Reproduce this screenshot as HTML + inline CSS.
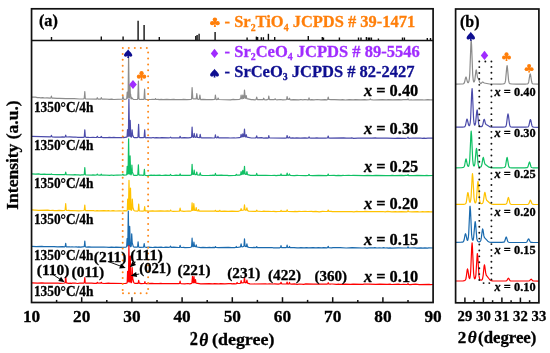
<!DOCTYPE html>
<html><head><meta charset="utf-8"><style>
html,body{margin:0;padding:0;background:#fff;width:550px;height:353px;overflow:hidden}
svg{display:block}
</style></head><body>
<svg width="550" height="353" viewBox="0 0 550 353">
<rect width="550" height="353" fill="#fff"/>
<g fill="none" stroke-width="1.2" stroke-linejoin="round"><polyline points="31.6,97.1 35.4,97.2 37.4,97.6 39.1,97.5 40.7,97.8 42.7,97.6 44.7,98.0 47.0,97.8 50.1,98.1 50.9,97.9 51.4,96.2 51.8,97.8 52.2,98.2 53.4,98.1 57.1,98.4 59.2,98.3 65.9,98.7 66.8,98.5 72.7,98.7 74.1,98.6 79.4,99.0 83.3,98.8 84.0,98.7 84.3,98.1 84.8,91.6 85.2,97.8 85.4,98.6 85.7,98.9 96.7,99.1 97.3,97.7 97.9,99.1 100.6,99.1 100.9,98.8 101.3,97.6 101.8,98.9 102.3,99.1 104.7,99.0 109.5,99.4 111.8,99.1 113.6,99.5 122.1,99.2 122.5,98.8 122.9,96.2 123.6,99.2 124.7,99.3 126.5,99.0 126.8,98.1 127.2,92.2 127.7,98.0 127.8,98.1 128.0,97.8 128.1,96.4 128.6,55.2 129.2,97.2 129.4,97.9 129.6,97.0 130.0,85.3 130.3,94.1 130.4,94.5 130.6,94.2 130.6,94.4 131.0,98.6 131.2,98.9 131.3,98.7 131.7,97.4 132.1,98.3 132.6,98.5 133.2,99.3 134.0,99.5 137.3,99.3 137.8,98.6 138.4,81.0 138.9,98.2 139.1,99.2 139.9,99.5 141.9,99.3 143.7,99.5 144.0,99.2 144.6,89.1 145.0,98.0 145.2,99.0 145.6,99.3 150.3,99.5 153.0,99.3 154.9,99.5 155.5,98.6 156.1,99.5 158.1,99.3 159.2,99.6 161.2,99.3 163.0,99.6 166.8,99.4 170.3,99.6 173.8,99.4 175.6,99.7 177.5,99.5 182.0,99.6 183.4,99.4 186.9,99.7 190.9,99.5 191.4,99.1 191.6,98.2 192.1,87.6 192.8,98.6 193.7,98.9 196.2,98.9 196.8,93.7 197.4,98.9 197.7,99.1 199.0,99.3 199.3,99.1 199.9,95.1 200.4,98.9 200.8,99.6 202.8,99.4 206.9,99.7 208.9,99.5 212.1,99.7 214.5,99.4 215.0,98.8 215.4,95.1 215.9,98.9 216.3,99.6 217.6,99.4 218.1,98.0 218.8,99.5 230.6,99.8 233.2,99.4 234.8,99.7 239.1,99.5 240.6,98.8 241.1,95.0 241.7,98.7 242.0,98.8 242.3,98.4 242.8,95.2 243.3,98.0 243.5,98.4 243.8,98.2 244.1,96.6 244.5,90.0 245.2,98.1 245.5,98.3 245.8,98.1 246.2,95.7 246.8,98.6 251.3,99.7 252.7,99.6 255.0,99.8 256.1,99.5 256.7,97.1 257.2,99.2 257.6,99.6 263.0,99.6 263.2,99.5 263.7,98.2 264.3,99.6 266.1,99.8 268.1,99.4 268.4,98.8 268.8,96.1 269.2,98.9 269.7,99.7 274.0,99.7 274.6,99.5 275.1,98.7 275.5,99.5 276.5,99.8 280.7,99.5 282.7,99.8 286.2,99.6 286.7,99.2 287.1,96.6 287.8,99.4 288.9,99.5 289.5,98.2 290.0,99.6 291.0,99.8 293.4,99.6 299.0,99.8 300.8,99.5 302.9,99.8 304.8,99.5 308.0,99.9 308.6,99.6 309.0,97.8 309.4,99.4 309.8,99.8 311.8,99.6 313.9,99.8 317.1,99.5 321.0,99.8 325.0,99.6 327.0,99.8 327.7,99.4 328.2,97.1 328.8,99.5 331.0,99.7 334.5,99.6 340.6,99.9 342.6,99.6 345.4,100.0 349.1,99.6 353.3,99.9 355.3,99.6 360.7,99.9 364.8,99.6 366.4,99.8 369.6,99.6 370.4,98.9 370.9,99.6 373.4,100.0 382.3,99.6 386.4,99.8 388.2,99.6 392.8,99.9 398.9,99.6 401.3,99.8 403.3,99.6 407.4,99.7 408.0,98.8 408.5,99.7 409.3,100.0 411.4,99.8 412.1,100.0 415.8,99.8 417.8,99.9 422.4,99.8 424.0,100.0 427.8,99.6 430.1,99.9 433.1,99.8" stroke="#8c8c8c"/><polyline points="31.6,136.3 50.5,136.8 51.0,136.5 51.4,135.4 52.0,136.8 55.1,137.1 58.4,137.0 60.5,137.2 62.6,136.9 64.3,137.2 65.2,136.9 65.7,135.1 66.2,136.8 66.5,137.0 69.8,136.9 73.2,137.2 75.4,137.0 77.8,137.3 83.4,137.3 84.1,137.2 84.3,136.6 84.8,129.9 85.3,136.5 85.5,137.0 86.1,137.3 88.2,137.3 89.7,137.5 93.1,137.3 95.4,137.5 96.7,137.3 97.3,136.3 97.9,137.3 99.6,137.5 100.7,137.4 101.3,136.4 101.9,137.3 103.2,137.6 106.5,137.5 107.3,137.7 109.4,137.4 111.8,137.7 113.8,137.3 115.9,137.6 117.5,137.5 119.9,137.7 122.2,137.6 122.9,136.5 123.5,137.6 126.5,137.2 126.9,137.0 127.1,136.3 127.5,129.5 127.9,136.1 128.2,136.5 128.4,135.1 128.9,99.1 129.5,135.9 129.7,136.2 129.8,134.9 130.2,120.4 130.8,136.7 131.3,137.1 131.5,137.0 131.7,136.5 132.1,129.8 132.6,135.1 133.6,137.2 134.4,137.6 137.0,137.7 138.0,137.3 138.6,124.3 139.1,136.4 139.3,137.3 139.9,137.6 143.2,137.7 144.1,137.5 144.7,129.9 145.2,137.3 145.3,137.6 146.4,137.8 146.9,137.6 151.3,137.8 153.1,137.5 154.6,137.9 156.2,137.6 159.7,137.9 161.7,137.6 168.7,137.9 170.1,137.7 170.6,137.1 171.3,137.8 178.6,137.9 179.6,137.8 180.1,136.3 180.6,137.7 181.3,137.9 184.2,137.7 188.1,137.9 190.4,137.7 191.2,137.4 191.6,136.7 192.1,127.0 192.5,135.2 192.9,137.2 193.4,137.3 193.7,136.9 194.2,133.3 194.8,137.1 196.0,137.3 196.2,137.2 196.8,133.8 197.2,136.8 197.5,137.5 199.6,137.6 200.2,134.4 200.8,137.6 201.8,137.9 211.0,137.8 213.2,138.0 214.6,137.9 215.0,137.3 215.4,134.9 215.9,137.5 216.4,137.9 217.5,137.6 217.9,136.4 218.4,137.6 219.1,137.9 228.1,137.8 230.1,138.0 234.1,137.8 235.3,138.0 239.4,137.7 240.6,137.2 241.1,134.3 241.7,137.0 242.1,136.9 242.4,136.5 242.8,133.8 243.3,136.4 243.5,136.7 243.9,136.5 244.5,129.0 244.9,135.3 245.2,136.8 245.5,136.9 245.8,136.7 246.2,134.6 246.9,137.1 251.3,138.0 256.1,137.8 256.7,135.9 257.1,137.5 257.4,137.9 261.7,137.7 263.5,138.1 266.3,137.9 268.1,138.1 268.4,137.6 268.8,135.6 269.2,137.5 269.7,137.9 285.1,138.1 286.6,137.8 287.1,135.5 287.7,137.8 289.0,137.8 289.5,136.8 289.9,137.8 290.7,138.1 292.6,137.9 294.6,138.1 296.6,137.9 300.3,138.2 305.0,137.9 307.2,138.1 308.5,137.9 309.0,136.9 309.5,137.8 310.8,138.1 314.7,138.2 316.8,137.9 318.9,138.2 321.4,138.0 325.5,138.1 327.6,137.9 328.2,136.0 328.7,138.0 330.0,138.2 343.6,137.9 346.4,138.2 348.3,138.0 350.5,138.1 351.8,137.9 353.6,138.3 357.9,138.1 359.6,138.2 363.7,138.0 365.4,138.2 367.4,138.0 368.6,138.2 371.7,138.2 375.4,137.9 376.9,138.1 378.9,138.0 383.1,138.2 387.0,138.1 395.3,138.3 397.2,138.1 405.0,138.3 407.5,138.0 408.0,137.2 408.7,138.3 413.2,138.0 418.7,138.2 420.5,138.0 422.2,138.4 424.1,138.1 425.8,138.3 427.8,138.1 433.1,138.2" stroke="#4b4baa"/><polyline points="31.6,173.8 35.4,174.1 38.6,173.9 40.8,174.4 44.5,174.1 46.2,174.3 50.2,174.3 51.0,174.3 51.4,173.9 52.0,174.3 52.9,174.5 57.2,174.6 60.9,174.5 64.8,174.7 65.2,174.4 65.7,172.2 66.2,174.4 66.6,174.6 73.1,174.8 74.9,174.7 76.4,174.9 78.2,174.8 80.4,175.1 81.2,174.9 83.1,174.9 84.0,174.7 84.3,174.2 84.8,167.6 85.3,174.2 85.5,174.9 85.9,175.0 92.0,175.1 92.9,174.9 94.9,175.2 96.7,174.9 97.3,174.1 97.9,175.0 99.2,175.2 100.7,175.1 101.3,174.2 101.7,175.0 102.0,175.2 103.6,175.0 109.9,175.3 111.4,175.0 113.4,175.3 116.8,175.0 117.7,175.2 122.3,175.0 122.9,174.2 123.6,175.1 126.2,175.0 126.6,174.8 126.8,173.8 127.2,166.4 127.7,173.8 127.9,174.2 128.1,172.9 128.6,138.8 129.2,173.6 129.5,174.0 129.7,172.0 130.1,155.9 130.6,174.1 131.1,174.8 131.4,174.1 131.9,165.1 132.3,171.9 133.4,174.8 133.6,175.1 134.5,175.3 136.4,175.4 137.4,175.2 137.8,174.8 138.4,164.8 138.8,174.2 139.0,174.9 139.6,175.2 141.7,175.1 143.1,175.3 143.8,175.1 144.4,169.4 144.8,174.4 145.0,175.1 145.4,175.3 147.9,175.6 151.1,175.2 153.1,175.4 153.6,175.2 155.8,175.4 159.7,175.2 161.8,175.5 165.6,175.1 167.9,175.4 169.8,175.3 170.6,174.5 171.1,175.3 173.4,175.5 176.1,175.2 178.1,175.4 179.6,175.3 180.1,173.9 180.6,175.2 180.9,175.4 190.3,175.3 191.3,174.9 191.6,174.3 192.1,164.3 192.5,172.6 192.8,174.5 193.4,174.5 193.7,174.1 194.2,170.2 194.6,173.8 194.9,174.6 196.2,174.7 196.8,172.0 197.2,174.5 197.5,175.0 199.6,175.2 200.2,172.8 200.8,175.1 202.7,175.5 208.6,175.5 210.4,175.3 212.2,175.4 212.9,175.2 214.6,175.4 215.0,175.1 215.4,173.4 215.9,175.1 216.2,175.4 221.5,175.1 223.5,175.4 227.3,175.3 228.7,175.6 234.0,175.5 235.7,175.3 236.3,174.3 236.8,175.2 239.5,175.2 240.6,174.6 241.1,171.7 241.6,174.4 241.8,174.6 242.2,174.3 242.8,170.4 243.3,173.8 243.6,174.1 243.9,173.9 244.5,166.3 244.9,172.7 245.2,174.1 245.9,174.4 246.3,174.3 246.9,171.7 247.5,174.7 250.6,175.4 256.1,175.4 256.7,173.4 257.2,175.2 257.6,175.4 265.9,175.3 271.4,175.5 274.5,175.3 276.2,175.6 278.0,175.3 280.2,175.4 280.5,175.3 281.0,173.9 281.5,175.2 281.8,175.4 286.0,175.4 286.5,175.3 286.7,175.0 287.1,173.0 287.8,175.3 288.9,175.2 289.5,174.0 289.9,175.0 290.3,175.4 294.3,175.6 297.1,175.3 298.8,175.5 305.8,175.6 308.3,175.3 309.0,174.4 309.7,175.4 312.7,175.7 318.6,175.4 326.5,175.6 327.6,175.4 328.2,174.0 328.6,175.2 328.9,175.5 334.1,175.3 336.1,175.6 338.3,175.3 341.1,175.6 343.1,175.3 344.0,175.5 348.9,175.3 351.1,175.5 353.1,175.3 364.4,175.7 367.6,175.3 372.5,175.7 376.0,175.4 386.2,175.6 390.1,175.6 392.2,175.3 394.4,175.6 401.8,175.3 403.8,175.6 405.8,175.3 407.4,175.5 408.0,174.6 408.7,175.6 411.5,175.5 413.9,175.7 417.1,175.4 424.8,175.6 426.8,175.4 428.4,175.6 433.1,175.5" stroke="#10c064"/><polyline points="31.6,210.0 32.6,209.8 34.7,210.2 35.6,210.1 38.7,210.4 47.9,210.2 50.2,210.5 52.8,210.3 54.4,210.6 57.0,210.6 59.0,210.3 62.3,210.6 64.8,210.3 65.2,209.4 65.7,203.7 66.2,209.8 66.4,210.3 67.2,210.5 68.2,210.4 70.2,210.7 71.5,210.5 78.6,210.8 83.9,210.5 84.3,209.8 84.8,205.1 85.2,209.8 85.7,210.6 93.4,210.7 95.0,211.0 97.0,210.6 98.9,210.9 104.0,210.7 106.6,210.9 108.6,210.7 110.1,211.0 113.1,210.7 115.6,211.0 119.4,210.8 122.5,211.0 124.2,210.7 126.2,210.9 127.0,210.6 127.3,210.0 127.7,199.2 128.1,208.4 128.3,209.5 128.5,208.8 129.0,180.3 129.6,209.3 129.7,209.7 129.9,209.6 130.1,207.3 130.5,188.0 131.0,209.6 131.2,210.2 131.5,210.3 131.9,209.3 132.3,199.1 132.8,207.1 133.8,210.3 134.2,210.7 135.0,210.9 137.4,211.1 138.2,210.8 138.7,204.1 139.2,210.3 139.4,210.9 139.8,211.0 142.2,211.1 144.1,210.8 144.7,206.7 145.1,210.5 145.3,210.8 146.1,210.9 146.8,210.8 148.8,211.1 152.7,210.8 154.7,211.1 160.6,210.9 164.9,211.1 167.5,210.9 169.5,211.2 170.1,211.0 170.6,210.1 171.2,211.0 173.1,211.3 178.7,211.2 179.4,211.1 179.6,210.8 180.1,208.1 180.6,210.5 180.9,210.9 183.9,211.3 188.2,211.0 190.4,211.1 191.4,210.8 191.6,210.4 192.1,202.9 192.5,209.1 192.8,210.5 193.2,210.4 193.4,209.6 193.8,203.6 194.5,210.3 195.4,210.4 195.7,210.2 196.2,207.5 196.8,210.6 198.1,211.0 198.7,209.6 199.1,210.9 199.4,211.1 214.8,211.2 215.4,210.3 216.2,211.4 218.2,211.1 219.2,211.3 219.8,210.3 220.2,211.1 220.7,211.3 224.4,211.2 228.1,211.4 231.9,211.1 236.2,211.4 238.5,211.3 240.6,210.5 241.1,208.6 241.7,210.4 243.9,210.0 244.5,204.9 244.9,209.1 245.3,210.2 245.8,210.2 246.4,210.0 246.9,207.9 247.4,210.3 248.0,210.9 248.8,211.1 254.5,211.4 256.1,211.3 256.7,210.2 257.3,211.1 261.8,211.5 263.8,211.2 265.6,211.4 268.5,211.3 271.7,211.5 273.7,211.3 276.0,211.6 277.9,211.5 280.6,211.3 281.0,210.4 281.5,211.3 281.8,211.4 286.1,211.4 286.7,211.2 287.1,209.8 287.6,211.1 287.9,211.3 294.2,211.6 294.9,211.4 297.0,211.7 299.1,211.4 301.2,211.5 305.2,211.3 307.9,211.5 311.5,211.3 313.0,211.6 315.8,211.3 319.2,211.8 322.5,211.4 325.4,211.5 327.6,211.3 328.2,210.0 328.7,211.3 331.2,211.4 332.3,211.7 339.9,211.5 344.2,211.7 346.2,211.5 347.7,211.7 351.8,211.6 353.9,211.8 356.9,211.4 358.1,211.6 361.4,211.5 363.4,211.6 365.0,211.4 369.0,211.7 373.5,211.5 374.9,211.7 376.2,211.6 382.7,211.5 385.2,211.8 387.3,211.4 391.9,211.8 395.9,211.6 396.8,211.8 401.3,211.7 406.4,211.8 407.5,211.7 408.0,210.7 408.8,211.7 412.0,211.9 417.4,211.6 419.6,212.0 422.6,211.7 424.5,211.9 428.2,211.7 430.4,211.9 433.1,211.9" stroke="#ffc200"/><polyline points="31.6,246.3 36.3,246.6 41.8,246.3 43.7,246.7 54.0,246.6 57.6,246.9 62.5,246.7 64.5,246.9 65.2,246.5 65.7,243.3 66.1,246.3 66.5,246.8 69.6,246.8 71.0,247.0 71.9,246.8 74.1,247.0 76.1,246.9 78.0,247.1 78.7,246.9 80.7,247.2 84.1,246.7 84.4,245.6 84.8,241.0 85.3,246.7 85.8,247.0 86.6,247.2 88.8,246.9 91.5,247.1 96.0,247.0 97.9,247.2 103.7,247.0 109.1,247.4 111.6,247.1 114.4,247.3 115.9,247.1 120.2,247.3 126.0,247.1 126.5,246.8 126.7,246.1 127.1,238.6 127.5,245.5 127.7,245.8 127.8,244.8 128.3,211.2 128.9,245.4 129.1,245.8 129.2,245.6 129.3,243.7 129.7,226.4 130.3,246.3 130.5,246.6 131.0,246.6 131.3,245.6 131.7,233.9 132.2,242.7 133.3,246.6 133.6,246.9 134.8,247.2 136.9,247.2 137.6,247.0 138.1,241.8 138.6,246.7 138.8,247.1 139.4,247.3 143.6,247.1 144.2,243.5 144.7,247.0 146.5,247.4 148.7,247.1 152.9,247.5 155.0,247.2 157.7,247.4 161.2,247.2 163.2,247.5 165.9,247.2 168.6,247.3 169.9,247.2 170.6,246.2 171.0,247.1 171.6,247.4 173.7,247.2 178.8,247.5 179.6,247.3 180.1,245.4 180.6,247.1 181.1,247.4 182.3,247.5 183.4,247.3 185.0,247.6 190.4,247.3 191.3,247.0 191.6,246.2 192.1,238.2 192.5,245.0 192.8,246.6 193.2,246.7 193.4,246.3 193.9,242.2 194.5,246.4 195.6,246.7 196.2,244.9 196.8,247.0 200.8,247.6 202.9,247.3 206.8,247.6 209.6,247.4 211.2,247.6 213.3,247.3 214.6,247.6 215.0,247.4 215.4,246.5 215.9,247.4 218.2,247.6 228.3,247.3 231.8,247.7 234.4,247.6 235.8,247.4 236.3,246.5 236.8,247.4 237.5,247.5 240.5,246.8 241.1,243.9 241.6,246.6 241.9,246.8 243.0,246.6 243.8,246.3 244.0,245.7 244.5,238.8 244.9,244.8 245.2,246.3 246.3,246.6 246.9,243.9 247.5,246.9 249.0,247.3 252.5,247.6 253.9,247.4 256.1,247.6 256.7,246.7 257.4,247.6 259.0,247.5 261.1,247.7 266.8,247.5 269.7,247.7 271.9,247.5 273.4,247.8 279.7,247.8 280.6,247.4 281.0,245.7 281.4,247.2 281.7,247.6 286.0,247.6 286.7,247.3 287.1,245.2 287.5,247.1 287.9,247.6 289.0,247.5 289.5,246.5 290.0,247.6 290.2,247.7 294.0,247.6 297.2,247.9 299.1,247.9 300.8,247.6 304.1,247.9 306.5,247.6 308.8,247.8 313.1,247.6 316.0,247.8 318.3,247.6 321.6,247.9 323.6,247.7 327.2,247.8 327.7,247.5 328.2,246.3 328.7,247.7 331.6,247.9 333.0,247.7 340.1,247.7 346.2,248.0 352.1,247.7 363.1,248.0 365.0,247.8 367.1,248.1 368.8,247.8 373.7,247.9 374.9,247.7 376.9,248.0 379.3,247.8 381.8,248.0 383.6,247.7 385.3,248.0 387.3,247.9 388.1,248.2 390.1,247.8 391.5,248.1 398.4,247.9 403.3,248.0 407.3,247.9 407.6,247.7 408.0,246.8 408.6,247.9 410.1,248.0 414.7,247.8 416.9,248.2 420.9,247.9 422.9,248.1 424.8,247.9 427.6,248.1 428.8,247.9 433.1,248.0" stroke="#1a6aae"/><polyline points="31.6,282.9 37.6,283.2 41.8,282.8 44.8,283.1 50.5,283.0 52.8,283.2 54.1,283.0 55.8,283.2 57.6,283.0 60.1,283.3 64.8,283.0 65.0,282.9 65.2,282.2 65.7,276.9 66.3,282.9 68.7,283.3 70.4,283.2 71.4,283.4 72.3,283.2 75.3,283.0 77.3,283.5 79.9,283.1 84.0,283.1 84.3,282.4 84.8,277.6 85.2,282.4 85.4,283.0 85.8,283.2 91.7,283.1 94.2,283.4 96.5,283.4 96.8,283.3 97.3,282.3 97.9,283.2 100.7,283.2 101.3,282.3 101.8,283.2 103.9,283.5 108.4,283.2 110.5,283.4 112.8,283.3 125.2,283.5 126.8,283.1 127.1,282.7 127.2,281.7 127.6,271.3 128.0,280.9 128.2,281.9 128.4,280.8 128.9,245.5 129.5,281.6 129.6,282.0 129.8,281.5 129.9,278.8 130.3,256.0 130.9,282.3 131.1,282.6 131.5,282.7 131.8,281.3 132.2,267.6 132.7,278.3 133.8,282.7 134.3,283.2 135.6,283.4 138.1,283.3 138.7,280.4 139.2,283.2 141.0,283.6 144.2,283.5 144.5,283.1 144.9,281.6 145.3,283.3 146.3,283.6 152.1,283.4 154.0,283.7 157.4,283.5 158.9,283.6 160.9,283.4 162.0,283.6 167.0,283.5 168.9,283.7 169.7,283.5 173.8,283.7 175.8,283.5 178.7,283.6 179.6,283.4 180.1,281.1 180.5,283.1 181.0,283.6 184.8,283.8 188.0,283.5 189.8,283.8 191.6,283.3 191.9,283.1 192.5,276.3 193.2,282.8 193.4,282.7 193.6,282.1 194.0,276.6 194.6,282.7 194.9,282.8 195.1,282.5 195.5,279.6 195.9,282.4 196.2,283.1 200.7,283.8 209.3,283.6 212.8,283.9 214.6,283.7 218.8,283.9 220.7,283.6 224.9,283.9 228.5,283.6 231.2,283.7 231.9,283.9 233.9,283.7 235.4,283.8 236.5,283.6 237.1,282.5 237.7,283.5 239.9,283.5 240.6,283.0 241.1,280.7 241.7,282.9 243.9,282.6 244.5,277.3 244.9,281.6 245.3,282.7 246.0,282.8 246.3,282.7 246.9,280.1 247.5,283.2 249.9,283.8 253.4,284.0 265.6,283.8 267.1,284.0 269.5,283.8 272.6,284.0 274.6,283.8 278.3,284.1 280.5,283.7 281.0,282.3 281.7,283.8 285.4,284.0 286.6,283.8 287.1,282.0 287.5,283.7 287.9,284.1 288.8,284.0 289.5,282.4 289.9,283.7 290.2,283.9 291.5,284.1 294.6,283.9 297.2,284.3 299.2,284.0 303.8,284.3 305.8,283.9 313.5,284.2 316.2,284.0 318.1,284.2 326.9,284.1 327.7,283.9 328.2,282.6 328.7,284.0 330.3,284.2 330.8,284.0 332.4,284.0 336.4,284.3 338.8,284.2 339.6,284.4 345.6,284.1 350.6,284.3 353.0,284.1 363.0,284.4 363.9,284.2 368.7,284.1 375.7,284.4 379.8,284.1 387.1,284.4 390.0,284.2 391.7,284.5 398.4,284.2 400.6,284.5 403.0,284.3 407.1,284.5 407.6,284.2 408.0,283.4 408.5,284.4 409.9,284.7 415.7,284.2 419.4,284.6 429.1,284.3 430.5,284.6 433.1,284.5" stroke="#ff0000"/></g>
<g fill="none" stroke-width="1.2" stroke-linejoin="round"><polyline points="455.6,84.1 461.8,84.0 463.1,83.8 463.7,83.6 464.2,83.0 464.6,82.1 465.6,77.7 466.0,77.0 466.3,77.6 467.2,81.1 467.6,82.3 467.9,82.6 468.3,82.6 468.8,81.8 469.4,78.6 469.8,73.4 470.9,43.7 471.1,40.8 471.2,40.0 471.6,45.4 472.7,74.6 473.2,79.8 473.5,81.2 473.8,81.9 474.1,81.9 474.3,81.7 474.8,80.0 475.9,71.0 476.2,69.8 476.5,70.7 477.5,77.4 477.8,78.0 478.4,78.5 478.6,79.1 479.8,82.6 480.5,83.4 481.2,83.3 482.3,82.2 482.7,82.1 484.3,83.0 489.4,84.0 500.4,84.1 503.0,83.9 504.3,83.6 504.7,83.3 505.0,82.7 505.5,80.9 506.7,67.9 507.1,65.6 507.2,65.9 507.4,67.2 508.6,80.4 509.1,82.5 509.4,83.2 509.8,83.6 511.8,84.0 516.5,84.1 525.1,84.1 526.9,84.0 527.7,83.8 528.3,83.2 528.7,81.9 529.8,75.0 530.2,73.9 530.6,75.0 531.6,81.5 532.0,82.8 532.3,83.5 532.8,83.8 533.7,84.0 538.9,84.2" stroke="#8c8c8c"/><polyline points="455.6,127.2 462.6,127.1 464.1,126.9 464.8,126.6 465.2,126.0 465.6,125.0 466.6,120.0 467.0,119.1 467.4,119.8 468.6,125.0 469.1,125.7 469.4,125.6 469.7,125.2 470.2,122.8 470.6,118.7 471.7,92.9 472.1,88.6 472.4,92.2 473.6,119.3 474.1,123.5 474.4,124.6 474.7,125.1 474.9,125.0 475.1,124.8 475.6,122.9 476.7,111.9 477.1,109.9 477.3,110.2 477.4,111.4 478.3,120.5 478.7,124.1 479.3,125.9 479.7,126.4 480.1,126.6 481.6,126.6 482.0,126.4 482.3,125.9 482.9,124.2 483.8,119.8 484.2,119.3 484.6,120.1 485.4,123.3 485.9,124.3 486.2,124.6 489.9,126.8 491.9,127.1 496.5,127.2 502.9,127.1 505.3,126.8 506.0,126.2 506.4,124.8 507.6,115.4 508.0,113.9 508.4,115.1 509.6,124.6 510.0,126.1 510.7,126.8 512.4,127.1 516.8,127.2 525.3,127.2 527.9,127.0 528.4,126.6 528.9,125.6 530.0,120.4 530.4,119.5 530.8,120.2 531.8,125.2 532.1,126.2 532.5,126.7 533.0,127.0 533.8,127.1 538.9,127.3" stroke="#4b4baa"/><polyline points="455.6,167.8 461.8,167.7 463.1,167.5 463.7,167.2 464.2,166.6 464.6,165.5 465.6,160.0 466.0,158.9 466.2,159.1 466.3,159.6 467.2,164.1 467.6,165.7 468.2,166.4 468.6,166.2 468.8,165.8 469.4,163.1 469.8,158.9 470.9,134.2 471.1,131.8 471.2,131.2 471.6,135.6 472.7,159.8 473.2,164.1 473.5,165.3 473.8,165.9 474.2,165.9 474.5,165.4 474.9,163.5 476.1,150.2 476.5,148.4 476.9,150.6 478.1,164.0 478.6,166.3 479.0,166.8 479.5,167.1 480.7,167.0 481.1,166.8 481.4,166.1 482.0,164.0 482.9,158.2 483.3,157.4 483.6,158.3 484.5,162.6 484.9,163.9 485.4,164.5 489.0,167.2 490.5,167.6 493.0,167.8 501.3,167.8 504.4,167.5 505.1,166.9 505.6,165.7 506.7,158.7 507.1,157.4 507.2,157.6 507.4,158.3 508.6,165.7 509.1,167.0 509.8,167.6 511.7,167.8 516.1,167.8 524.4,167.8 527.0,167.7 527.5,167.4 528.0,166.6 529.1,162.7 529.5,162.0 529.8,162.5 530.9,166.5 531.3,167.2 531.7,167.5 533.2,167.8 538.9,167.9" stroke="#10c064"/><polyline points="455.6,204.4 463.3,204.3 464.9,204.1 465.6,203.7 466.1,202.9 466.4,201.6 467.5,193.8 467.9,192.5 468.3,193.6 469.4,201.1 469.8,202.1 470.0,202.3 470.2,202.1 470.7,200.3 471.1,196.8 472.2,176.3 472.4,174.2 472.5,173.7 472.9,177.4 474.0,197.6 474.6,201.6 474.9,202.4 475.2,202.8 475.6,202.7 475.9,202.2 476.4,199.6 477.6,183.8 478.0,181.4 478.4,183.8 479.6,199.9 480.1,202.6 480.5,203.2 481.0,203.6 481.7,203.7 482.3,203.5 482.7,203.1 483.1,202.3 483.6,199.7 484.5,193.4 484.8,192.3 485.2,193.2 486.1,198.6 486.7,200.2 490.0,203.3 490.9,203.8 491.7,204.1 493.8,204.3 499.5,204.4 504.3,204.4 506.0,204.2 506.5,203.7 506.9,203.0 508.0,198.3 508.4,197.5 508.7,198.1 509.9,203.0 510.4,203.9 511.1,204.3 518.0,204.5 527.9,204.3 528.4,204.1 528.9,203.5 530.0,200.7 530.4,200.2 530.8,200.6 531.8,203.3 532.5,204.2 533.8,204.4 538.9,204.5" stroke="#ffc200"/><polyline points="455.6,242.4 461.4,242.2 462.6,242.1 463.3,241.8 463.7,241.1 464.1,240.0 465.1,234.7 465.5,233.7 465.9,234.5 467.0,239.7 467.4,240.4 467.8,240.0 468.3,237.7 468.7,233.5 469.8,209.3 469.9,206.8 470.1,206.2 470.5,210.6 471.6,234.5 472.1,238.7 472.4,239.8 472.7,240.3 473.0,240.2 473.2,239.8 473.6,237.7 474.9,223.4 475.2,221.5 475.6,223.8 476.8,238.4 477.4,240.8 477.7,241.3 478.2,241.6 479.1,241.8 479.9,241.6 480.4,241.2 480.8,240.5 481.3,237.9 482.3,230.4 482.6,228.9 483.0,229.9 483.9,235.9 484.5,237.7 487.8,241.2 488.6,241.8 489.6,242.1 491.3,242.3 495.7,242.4 501.6,242.4 503.7,242.2 504.3,241.9 504.7,241.2 505.9,237.5 506.2,237.0 506.6,237.6 507.7,241.3 508.2,242.0 508.9,242.3 516.6,242.5 526.1,242.3 526.7,242.1 527.1,241.6 528.3,239.1 528.6,238.8 529.0,239.2 530.0,241.5 530.4,242.0 530.8,242.3 532.5,242.4 538.9,242.5" stroke="#1a6aae"/><polyline points="455.6,281.0 463.0,280.8 464.5,280.6 465.2,280.2 465.7,279.4 466.1,278.0 467.2,269.9 467.5,268.8 467.9,270.2 469.0,277.6 469.5,278.6 469.9,278.2 470.3,275.6 470.7,271.0 471.7,247.2 472.1,242.9 472.4,246.4 473.6,273.1 474.1,277.2 474.4,278.3 474.8,278.8 475.1,278.6 475.4,277.8 475.9,274.8 477.1,255.7 477.3,253.9 477.4,253.5 477.8,256.8 479.0,275.9 479.6,278.9 479.9,279.6 480.4,280.0 481.2,280.1 481.9,279.9 482.3,279.4 482.6,278.5 483.2,275.1 484.1,266.1 484.5,264.8 484.8,266.3 485.7,272.9 486.2,275.2 489.6,279.5 490.4,280.2 491.3,280.6 492.7,280.9 495.4,281.0 505.9,280.9 506.4,280.8 506.9,280.5 508.0,278.5 508.4,278.2 508.7,278.4 509.9,280.5 510.4,280.8 511.1,281.0 528.6,281.0 529.6,280.7 530.8,279.4 531.1,279.2 531.5,279.4 532.5,280.6 533.3,281.0 538.9,281.1" stroke="#ff0000"/></g>
<g fill="#ff8a1c"><circle cx="122.80" cy="48.10" r="1.0"/><circle cx="128.80" cy="48.10" r="1.0"/><circle cx="134.80" cy="48.10" r="1.0"/><circle cx="140.80" cy="48.10" r="1.0"/><circle cx="146.80" cy="48.10" r="1.0"/><circle cx="148.10" cy="52.60" r="1.0"/><circle cx="148.10" cy="58.51" r="1.0"/><circle cx="148.10" cy="64.42" r="1.0"/><circle cx="148.10" cy="70.33" r="1.0"/><circle cx="148.10" cy="76.24" r="1.0"/><circle cx="148.10" cy="82.15" r="1.0"/><circle cx="148.10" cy="88.06" r="1.0"/><circle cx="148.10" cy="93.97" r="1.0"/><circle cx="148.10" cy="99.88" r="1.0"/><circle cx="148.10" cy="105.79" r="1.0"/><circle cx="148.10" cy="111.70" r="1.0"/><circle cx="148.10" cy="117.61" r="1.0"/><circle cx="148.10" cy="123.52" r="1.0"/><circle cx="148.10" cy="129.43" r="1.0"/><circle cx="148.10" cy="135.34" r="1.0"/><circle cx="148.10" cy="141.25" r="1.0"/><circle cx="148.10" cy="147.16" r="1.0"/><circle cx="148.10" cy="153.07" r="1.0"/><circle cx="148.10" cy="158.98" r="1.0"/><circle cx="148.10" cy="164.89" r="1.0"/><circle cx="148.10" cy="170.80" r="1.0"/><circle cx="148.10" cy="176.71" r="1.0"/><circle cx="148.10" cy="182.62" r="1.0"/><circle cx="148.10" cy="188.53" r="1.0"/><circle cx="148.10" cy="194.44" r="1.0"/><circle cx="148.10" cy="200.35" r="1.0"/><circle cx="148.10" cy="206.26" r="1.0"/><circle cx="148.10" cy="212.17" r="1.0"/><circle cx="148.10" cy="218.08" r="1.0"/><circle cx="148.10" cy="223.99" r="1.0"/><circle cx="148.10" cy="229.90" r="1.0"/><circle cx="148.10" cy="235.81" r="1.0"/><circle cx="148.10" cy="241.72" r="1.0"/><circle cx="148.10" cy="247.63" r="1.0"/><circle cx="148.10" cy="253.54" r="1.0"/><circle cx="148.10" cy="259.45" r="1.0"/><circle cx="148.10" cy="265.36" r="1.0"/><circle cx="148.10" cy="271.27" r="1.0"/><circle cx="148.10" cy="277.18" r="1.0"/><circle cx="148.10" cy="283.09" r="1.0"/><circle cx="148.10" cy="289.00" r="1.0"/><circle cx="146.60" cy="293.20" r="1.0"/><circle cx="140.70" cy="293.20" r="1.0"/><circle cx="134.80" cy="293.20" r="1.0"/><circle cx="128.90" cy="293.20" r="1.0"/><circle cx="123.00" cy="293.20" r="1.0"/><circle cx="122.70" cy="53.90" r="1.0"/><circle cx="122.70" cy="59.80" r="1.0"/><circle cx="122.70" cy="65.70" r="1.0"/><circle cx="122.70" cy="71.60" r="1.0"/><circle cx="122.70" cy="77.50" r="1.0"/><circle cx="122.70" cy="83.40" r="1.0"/><circle cx="122.70" cy="89.30" r="1.0"/><circle cx="122.70" cy="95.20" r="1.0"/><circle cx="122.70" cy="101.10" r="1.0"/><circle cx="122.70" cy="107.00" r="1.0"/><circle cx="122.70" cy="112.90" r="1.0"/><circle cx="122.70" cy="118.80" r="1.0"/><circle cx="122.70" cy="124.70" r="1.0"/><circle cx="122.70" cy="130.60" r="1.0"/><circle cx="122.70" cy="136.50" r="1.0"/><circle cx="122.70" cy="142.40" r="1.0"/><circle cx="122.70" cy="148.30" r="1.0"/><circle cx="122.70" cy="154.20" r="1.0"/><circle cx="122.70" cy="160.10" r="1.0"/><circle cx="122.70" cy="166.00" r="1.0"/><circle cx="122.70" cy="171.90" r="1.0"/><circle cx="122.70" cy="177.80" r="1.0"/><circle cx="122.70" cy="183.70" r="1.0"/><circle cx="122.70" cy="189.60" r="1.0"/><circle cx="122.70" cy="195.50" r="1.0"/><circle cx="122.70" cy="201.40" r="1.0"/><circle cx="122.70" cy="207.30" r="1.0"/><circle cx="122.70" cy="213.20" r="1.0"/><circle cx="122.70" cy="219.10" r="1.0"/><circle cx="122.70" cy="225.00" r="1.0"/><circle cx="122.70" cy="230.90" r="1.0"/><circle cx="122.70" cy="236.80" r="1.0"/><circle cx="122.70" cy="242.70" r="1.0"/><circle cx="122.70" cy="248.60" r="1.0"/><circle cx="122.70" cy="254.50" r="1.0"/><circle cx="122.70" cy="260.40" r="1.0"/><circle cx="122.70" cy="266.30" r="1.0"/><circle cx="122.70" cy="272.20" r="1.0"/><circle cx="122.70" cy="278.10" r="1.0"/><circle cx="122.70" cy="284.00" r="1.0"/><circle cx="122.70" cy="289.90" r="1.0"/></g><g fill="#111"><circle cx="479.30" cy="61.50" r="0.95"/><circle cx="485.35" cy="61.50" r="0.95"/><circle cx="491.40" cy="61.50" r="0.95"/><circle cx="491.40" cy="66.90" r="0.95"/><circle cx="491.40" cy="72.81" r="0.95"/><circle cx="491.40" cy="78.71" r="0.95"/><circle cx="491.40" cy="84.62" r="0.95"/><circle cx="491.40" cy="90.52" r="0.95"/><circle cx="491.40" cy="96.43" r="0.95"/><circle cx="491.40" cy="102.34" r="0.95"/><circle cx="491.40" cy="108.24" r="0.95"/><circle cx="491.40" cy="114.15" r="0.95"/><circle cx="491.40" cy="120.05" r="0.95"/><circle cx="491.40" cy="125.96" r="0.95"/><circle cx="491.40" cy="131.87" r="0.95"/><circle cx="491.40" cy="137.77" r="0.95"/><circle cx="491.40" cy="143.68" r="0.95"/><circle cx="491.40" cy="149.58" r="0.95"/><circle cx="491.40" cy="155.49" r="0.95"/><circle cx="491.40" cy="161.40" r="0.95"/><circle cx="491.40" cy="167.30" r="0.95"/><circle cx="491.40" cy="173.21" r="0.95"/><circle cx="491.40" cy="179.11" r="0.95"/><circle cx="491.40" cy="185.02" r="0.95"/><circle cx="491.40" cy="190.93" r="0.95"/><circle cx="491.40" cy="196.83" r="0.95"/><circle cx="491.40" cy="202.74" r="0.95"/><circle cx="491.40" cy="208.64" r="0.95"/><circle cx="491.40" cy="214.55" r="0.95"/><circle cx="491.40" cy="220.46" r="0.95"/><circle cx="491.40" cy="226.36" r="0.95"/><circle cx="491.40" cy="232.27" r="0.95"/><circle cx="491.40" cy="238.17" r="0.95"/><circle cx="491.40" cy="244.08" r="0.95"/><circle cx="491.40" cy="249.99" r="0.95"/><circle cx="491.40" cy="255.89" r="0.95"/><circle cx="491.40" cy="261.80" r="0.95"/><circle cx="491.40" cy="267.70" r="0.95"/><circle cx="491.40" cy="273.61" r="0.95"/><circle cx="491.40" cy="279.52" r="0.95"/><circle cx="489.30" cy="283.10" r="0.95"/><circle cx="483.60" cy="283.10" r="0.95"/><circle cx="479.30" cy="67.10" r="0.95"/><circle cx="479.30" cy="73.01" r="0.95"/><circle cx="479.30" cy="78.93" r="0.95"/><circle cx="479.30" cy="84.84" r="0.95"/><circle cx="479.30" cy="90.76" r="0.95"/><circle cx="479.30" cy="96.67" r="0.95"/><circle cx="479.30" cy="102.58" r="0.95"/><circle cx="479.30" cy="108.50" r="0.95"/><circle cx="479.30" cy="114.41" r="0.95"/><circle cx="479.30" cy="120.33" r="0.95"/><circle cx="479.30" cy="126.24" r="0.95"/><circle cx="479.30" cy="132.15" r="0.95"/><circle cx="479.30" cy="138.07" r="0.95"/><circle cx="479.30" cy="143.98" r="0.95"/><circle cx="479.30" cy="149.90" r="0.95"/><circle cx="479.30" cy="155.81" r="0.95"/><circle cx="479.30" cy="161.72" r="0.95"/><circle cx="479.30" cy="167.64" r="0.95"/><circle cx="479.30" cy="173.55" r="0.95"/><circle cx="479.30" cy="179.47" r="0.95"/><circle cx="479.30" cy="185.38" r="0.95"/><circle cx="479.30" cy="191.29" r="0.95"/><circle cx="479.30" cy="197.21" r="0.95"/><circle cx="479.30" cy="203.12" r="0.95"/><circle cx="479.30" cy="209.04" r="0.95"/><circle cx="479.30" cy="214.95" r="0.95"/><circle cx="479.30" cy="220.86" r="0.95"/><circle cx="479.30" cy="226.78" r="0.95"/><circle cx="479.30" cy="232.69" r="0.95"/><circle cx="479.30" cy="238.61" r="0.95"/><circle cx="479.30" cy="244.52" r="0.95"/><circle cx="479.30" cy="250.43" r="0.95"/><circle cx="479.30" cy="256.35" r="0.95"/><circle cx="479.30" cy="262.26" r="0.95"/><circle cx="479.30" cy="268.18" r="0.95"/><circle cx="479.30" cy="274.09" r="0.95"/><circle cx="479.30" cy="280.00" r="0.95"/></g>
<g stroke="#111" stroke-width="1.5"><line x1="56.6" y1="302.5" x2="56.6" y2="299.9"/><line x1="81.7" y1="302.5" x2="81.7" y2="297.2"/><line x1="106.8" y1="302.5" x2="106.8" y2="299.9"/><line x1="131.9" y1="302.5" x2="131.9" y2="297.2"/><line x1="157.0" y1="302.5" x2="157.0" y2="299.9"/><line x1="182.1" y1="302.5" x2="182.1" y2="297.2"/><line x1="207.2" y1="302.5" x2="207.2" y2="299.9"/><line x1="232.3" y1="302.5" x2="232.3" y2="297.2"/><line x1="257.4" y1="302.5" x2="257.4" y2="299.9"/><line x1="282.5" y1="302.5" x2="282.5" y2="297.2"/><line x1="307.6" y1="302.5" x2="307.6" y2="299.9"/><line x1="332.7" y1="302.5" x2="332.7" y2="297.2"/><line x1="357.8" y1="302.5" x2="357.8" y2="299.9"/><line x1="382.9" y1="302.5" x2="382.9" y2="297.2"/><line x1="408.0" y1="302.5" x2="408.0" y2="299.9"/><line x1="464.9" y1="302.8" x2="464.9" y2="297.6"/><line x1="474.1" y1="302.8" x2="474.1" y2="300.2"/><line x1="483.4" y1="302.8" x2="483.4" y2="297.6"/><line x1="492.6" y1="302.8" x2="492.6" y2="300.2"/><line x1="501.9" y1="302.8" x2="501.9" y2="297.6"/><line x1="511.1" y1="302.8" x2="511.1" y2="300.2"/><line x1="520.4" y1="302.8" x2="520.4" y2="297.6"/><line x1="529.6" y1="302.8" x2="529.6" y2="300.2"/></g>
<g stroke="#111" stroke-width="1.4"><line x1="51.5" y1="40.5" x2="51.5" y2="37.0"/><line x1="101.3" y1="40.5" x2="101.3" y2="36.5"/><line x1="123.1" y1="40.5" x2="123.1" y2="36.5"/><line x1="138.1" y1="40.5" x2="138.1" y2="20.7"/><line x1="144.1" y1="40.5" x2="144.1" y2="24.9"/><line x1="159.3" y1="40.5" x2="159.3" y2="37.0"/><line x1="195.8" y1="40.5" x2="195.8" y2="36.0"/><line x1="197.1" y1="40.5" x2="197.1" y2="35.0"/><line x1="199.1" y1="40.5" x2="199.1" y2="33.8"/><line x1="215.1" y1="40.5" x2="215.1" y2="32.1"/><line x1="247.1" y1="40.5" x2="247.1" y2="37.4"/><line x1="256.4" y1="40.5" x2="256.4" y2="36.6"/><line x1="257.6" y1="40.5" x2="257.6" y2="37.0"/><line x1="261.3" y1="40.5" x2="261.3" y2="37.2"/><line x1="263.4" y1="40.5" x2="263.4" y2="37.2"/><line x1="268.4" y1="40.5" x2="268.4" y2="33.8"/><line x1="274.7" y1="40.5" x2="274.7" y2="37.0"/><line x1="308.3" y1="40.5" x2="308.3" y2="36.0"/><line x1="322.3" y1="40.5" x2="322.3" y2="37.0"/><line x1="323.5" y1="40.5" x2="323.5" y2="37.5"/><line x1="339.4" y1="40.5" x2="339.4" y2="37.5"/><line x1="358.5" y1="40.5" x2="358.5" y2="37.5"/><line x1="361.0" y1="40.5" x2="361.0" y2="37.5"/><line x1="366.4" y1="40.5" x2="366.4" y2="37.0"/><line x1="368.3" y1="40.5" x2="368.3" y2="37.5"/><line x1="369.7" y1="40.5" x2="369.7" y2="37.5"/><line x1="371.4" y1="40.5" x2="371.4" y2="37.5"/><line x1="378.4" y1="40.5" x2="378.4" y2="38.5"/><line x1="402.5" y1="40.5" x2="402.5" y2="37.5"/><line x1="404.4" y1="40.5" x2="404.4" y2="37.5"/><line x1="427.3" y1="40.5" x2="427.3" y2="38.0"/><line x1="430.5" y1="40.5" x2="430.5" y2="38.0"/></g>
<g fill="none" stroke="#111" stroke-width="1.7">
<rect x="31.55" y="8.8" width="401.55" height="293.70"/>
<line x1="31.55" y1="40.45" x2="433.1" y2="40.45" stroke-width="1.5"/>
<rect x="455.6" y="9.0" width="83.30" height="293.80"/>
</g>
<path d="M5,0 C4.6,1.5 0,4.6 0,7.0 C0,8.6 2.0,9.2 3.6,8.1 L4.3,7.6 L3.9,10 L6.1,10 L5.7,7.6 L6.4,8.1 C8,9.2 10,8.6 10,7.0 C10,4.6 5.4,1.5 5,0 Z" transform="translate(124.00,49.20) scale(0.830,0.870)" fill="#0e0e90"/><polygon points="133.0,79.9 136.8,84.5 133.0,89.0 129.2,84.5" fill="#a02cff"/><g transform="translate(136.80,71.00) scale(0.950,0.950)" fill="#ff7f0a"><circle cx="5" cy="2.25" r="2.25"/><circle cx="2.25" cy="6.0" r="2.25"/><circle cx="7.75" cy="6.0" r="2.25"/><path d="M4.1,3 L5.9,3 L6.6,5.6 L5.6,7.2 L6.1,9.9 L3.9,9.9 L4.4,7.2 L3.4,5.6 Z"/></g><path d="M5,0 C4.6,1.5 0,4.6 0,7.0 C0,8.6 2.0,9.2 3.6,8.1 L4.3,7.6 L3.9,10 L6.1,10 L5.7,7.6 L6.4,8.1 C8,9.2 10,8.6 10,7.0 C10,4.6 5.4,1.5 5,0 Z" transform="translate(466.60,31.80) scale(0.840,0.900)" fill="#0e0e90"/><polygon points="484.5,50.8 488.2,55.4 484.5,60.0 480.8,55.4" fill="#a02cff"/><g transform="translate(502.00,52.20) scale(0.900,0.880)" fill="#ff7f0a"><circle cx="5" cy="2.25" r="2.25"/><circle cx="2.25" cy="6.0" r="2.25"/><circle cx="7.75" cy="6.0" r="2.25"/><path d="M4.1,3 L5.9,3 L6.6,5.6 L5.6,7.2 L6.1,9.9 L3.9,9.9 L4.4,7.2 L3.4,5.6 Z"/></g><g transform="translate(524.60,64.00) scale(0.900,0.860)" fill="#ff7f0a"><circle cx="5" cy="2.25" r="2.25"/><circle cx="2.25" cy="6.0" r="2.25"/><circle cx="7.75" cy="6.0" r="2.25"/><path d="M4.1,3 L5.9,3 L6.6,5.6 L5.6,7.2 L6.1,9.9 L3.9,9.9 L4.4,7.2 L3.4,5.6 Z"/></g><g transform="translate(210.00,17.40) scale(0.980,0.960)" fill="#ff7f0a"><circle cx="5" cy="2.25" r="2.25"/><circle cx="2.25" cy="6.0" r="2.25"/><circle cx="7.75" cy="6.0" r="2.25"/><path d="M4.1,3 L5.9,3 L6.6,5.6 L5.6,7.2 L6.1,9.9 L3.9,9.9 L4.4,7.2 L3.4,5.6 Z"/></g><polygon points="214.5,48.8 218.2,53.4 214.5,58.0 210.8,53.4" fill="#a02cff"/><path d="M5,0 C4.6,1.5 0,4.6 0,7.0 C0,8.6 2.0,9.2 3.6,8.1 L4.3,7.6 L3.9,10 L6.1,10 L5.7,7.6 L6.4,8.1 C8,9.2 10,8.6 10,7.0 C10,4.6 5.4,1.5 5,0 Z" transform="translate(210.10,68.70) scale(0.890,0.890)" fill="#0e0e90"/>
<line x1="52.8" y1="274.4" x2="60.3" y2="279.4" stroke="#000" stroke-width="0.9"/><polygon points="64.6,282.3 58.2,281.1 61.1,276.8" fill="#000"/><line x1="108.7" y1="261.7" x2="120.8" y2="266.2" stroke="#000" stroke-width="0.9"/><polygon points="125.7,268.0 119.2,268.4 121.0,263.5" fill="#000"/><line x1="135.5" y1="262.0" x2="133.7" y2="263.7" stroke="#000" stroke-width="0.9"/><polygon points="129.9,267.2 132.5,261.2 136.1,265.0" fill="#000"/><line x1="139.2" y1="274.0" x2="135.8" y2="274.7" stroke="#000" stroke-width="0.9"/><polygon points="130.7,275.7 136.1,272.0 137.1,277.1" fill="#000"/>
<g font-family="'Liberation Serif', 'Times New Roman', serif" font-weight="bold" stroke-width="0.3"><text x="38.97" y="25.9" font-size="16.1" text-anchor="start" fill="#000" stroke="#000" textLength="18.9" lengthAdjust="spacingAndGlyphs" >(a)</text><text x="459.98" y="26.8" font-size="16.0" text-anchor="start" fill="#000" stroke="#000" textLength="19.49" lengthAdjust="spacingAndGlyphs" >(b)</text><text x="33.93" y="112.3" font-size="14.0" text-anchor="start" fill="#000" stroke="#000" textLength="59.38" lengthAdjust="spacingAndGlyphs" >1350°C/4h</text><text x="33.93" y="150.3" font-size="14.0" text-anchor="start" fill="#000" stroke="#000" textLength="59.38" lengthAdjust="spacingAndGlyphs" >1350°C/4h</text><text x="33.93" y="187.7" font-size="14.0" text-anchor="start" fill="#000" stroke="#000" textLength="59.38" lengthAdjust="spacingAndGlyphs" >1350°C/4h</text><text x="33.93" y="224.3" font-size="14.0" text-anchor="start" fill="#000" stroke="#000" textLength="59.38" lengthAdjust="spacingAndGlyphs" >1350°C/4h</text><text x="33.93" y="259.7" font-size="14.0" text-anchor="start" fill="#000" stroke="#000" textLength="59.38" lengthAdjust="spacingAndGlyphs" >1350°C/4h</text><text x="33.93" y="296.3" font-size="14.0" text-anchor="start" fill="#000" stroke="#000" textLength="59.38" lengthAdjust="spacingAndGlyphs" >1350°C/4h</text><text x="363.9" y="95.9" font-size="16.8" text-anchor="start" fill="#000" stroke="#000" textLength="54.4" lengthAdjust="spacingAndGlyphs" ><tspan font-style="italic">x</tspan> = 0.40</text><text x="363.9" y="134.4" font-size="16.8" text-anchor="start" fill="#000" stroke="#000" textLength="54.4" lengthAdjust="spacingAndGlyphs" ><tspan font-style="italic">x</tspan> = 0.30</text><text x="363.9" y="172.4" font-size="16.8" text-anchor="start" fill="#000" stroke="#000" textLength="54.4" lengthAdjust="spacingAndGlyphs" ><tspan font-style="italic">x</tspan> = 0.25</text><text x="363.9" y="208.7" font-size="16.8" text-anchor="start" fill="#000" stroke="#000" textLength="54.4" lengthAdjust="spacingAndGlyphs" ><tspan font-style="italic">x</tspan> = 0.20</text><text x="363.9" y="244.7" font-size="16.8" text-anchor="start" fill="#000" stroke="#000" textLength="54.4" lengthAdjust="spacingAndGlyphs" ><tspan font-style="italic">x</tspan> = 0.15</text><text x="363.9" y="281.7" font-size="16.8" text-anchor="start" fill="#000" stroke="#000" textLength="54.4" lengthAdjust="spacingAndGlyphs" ><tspan font-style="italic">x</tspan> = 0.10</text><text x="494.6" y="95.8" font-size="12.2" text-anchor="start" fill="#000" stroke="#000" textLength="41.0" lengthAdjust="spacingAndGlyphs" ><tspan font-style="italic">x</tspan> = 0.40</text><text x="494.6" y="137.4" font-size="12.2" text-anchor="start" fill="#000" stroke="#000" textLength="41.0" lengthAdjust="spacingAndGlyphs" ><tspan font-style="italic">x</tspan> = 0.30</text><text x="494.6" y="177.8" font-size="12.2" text-anchor="start" fill="#000" stroke="#000" textLength="41.0" lengthAdjust="spacingAndGlyphs" ><tspan font-style="italic">x</tspan> = 0.25</text><text x="494.6" y="216.4" font-size="12.2" text-anchor="start" fill="#000" stroke="#000" textLength="41.0" lengthAdjust="spacingAndGlyphs" ><tspan font-style="italic">x</tspan> = 0.20</text><text x="494.6" y="254.4" font-size="12.2" text-anchor="start" fill="#000" stroke="#000" textLength="41.0" lengthAdjust="spacingAndGlyphs" ><tspan font-style="italic">x</tspan> = 0.15</text><text x="494.6" y="291.4" font-size="12.2" text-anchor="start" fill="#000" stroke="#000" textLength="41.0" lengthAdjust="spacingAndGlyphs" ><tspan font-style="italic">x</tspan> = 0.10</text><text x="31.6" y="321.9" font-size="17.3" text-anchor="middle" fill="#000" stroke="#000" >10</text><text x="81.7" y="321.9" font-size="17.3" text-anchor="middle" fill="#000" stroke="#000" >20</text><text x="131.9" y="321.9" font-size="17.3" text-anchor="middle" fill="#000" stroke="#000" >30</text><text x="182.1" y="321.9" font-size="17.3" text-anchor="middle" fill="#000" stroke="#000" >40</text><text x="232.3" y="321.9" font-size="17.3" text-anchor="middle" fill="#000" stroke="#000" >50</text><text x="282.5" y="321.9" font-size="17.3" text-anchor="middle" fill="#000" stroke="#000" >60</text><text x="332.7" y="321.9" font-size="17.3" text-anchor="middle" fill="#000" stroke="#000" >70</text><text x="382.9" y="321.9" font-size="17.3" text-anchor="middle" fill="#000" stroke="#000" >80</text><text x="433.1" y="321.9" font-size="17.3" text-anchor="middle" fill="#000" stroke="#000" >90</text><text x="464.9" y="321.1" font-size="15.2" text-anchor="middle" fill="#000" stroke="#000" textLength="14.7" lengthAdjust="spacingAndGlyphs" >29</text><text x="483.4" y="321.1" font-size="15.2" text-anchor="middle" fill="#000" stroke="#000" textLength="14.7" lengthAdjust="spacingAndGlyphs" >30</text><text x="501.9" y="321.1" font-size="15.2" text-anchor="middle" fill="#000" stroke="#000" textLength="14.7" lengthAdjust="spacingAndGlyphs" >31</text><text x="520.4" y="321.1" font-size="15.2" text-anchor="middle" fill="#000" stroke="#000" textLength="14.7" lengthAdjust="spacingAndGlyphs" >32</text><text x="538.9" y="321.1" font-size="15.2" text-anchor="middle" fill="#000" stroke="#000" textLength="14.7" lengthAdjust="spacingAndGlyphs" >33</text><text x="189.74" y="345.4" font-size="17.9" text-anchor="start" fill="#000" stroke="#000" textLength="8.19" lengthAdjust="spacingAndGlyphs" >2</text><text x="199.2" y="345.7" font-size="17.8" text-anchor="start" fill="#000" stroke="#000" font-style="italic" textLength="9.0" lengthAdjust="spacingAndGlyphs">θ</text><text x="211.99" y="345.2" font-size="17.7" text-anchor="start" fill="#000" stroke="#000" textLength="62.41" lengthAdjust="spacingAndGlyphs" >(degree)</text><text x="457.72" y="342.6" font-size="16.3" text-anchor="start" fill="#000" stroke="#000" textLength="8.55" lengthAdjust="spacingAndGlyphs" >2</text><text x="467.8" y="343.0" font-size="16.6" text-anchor="start" fill="#000" stroke="#000" font-style="italic" textLength="8.9" lengthAdjust="spacingAndGlyphs">θ</text><text x="478.05" y="342.6" font-size="16.4" text-anchor="start" fill="#000" stroke="#000" textLength="58.3" lengthAdjust="spacingAndGlyphs" >(degree)</text><text x="36.8" y="275.1" font-size="14.8" text-anchor="start" fill="#000" stroke="#000" textLength="32.63" lengthAdjust="spacingAndGlyphs" >(110)</text><text x="71.5" y="276.5" font-size="14.8" text-anchor="start" fill="#000" stroke="#000" textLength="32.73" lengthAdjust="spacingAndGlyphs" >(011)</text><text x="93.8" y="261.8" font-size="14.8" text-anchor="start" fill="#000" stroke="#000" textLength="32.63" lengthAdjust="spacingAndGlyphs" >(211)</text><text x="130.19" y="259.5" font-size="14.8" text-anchor="start" fill="#000" stroke="#000" textLength="32.66" lengthAdjust="spacingAndGlyphs" >(111)</text><text x="139.34" y="272.5" font-size="14.8" text-anchor="start" fill="#000" stroke="#000" textLength="31.76" lengthAdjust="spacingAndGlyphs" >(021)</text><text x="177.62" y="275.1" font-size="14.8" text-anchor="start" fill="#000" stroke="#000" textLength="32.91" lengthAdjust="spacingAndGlyphs" >(221)</text><text x="227.32" y="277.5" font-size="14.8" text-anchor="start" fill="#000" stroke="#000" textLength="32.91" lengthAdjust="spacingAndGlyphs" >(231)</text><text x="268.01" y="279.5" font-size="14.8" text-anchor="start" fill="#000" stroke="#000" textLength="33.01" lengthAdjust="spacingAndGlyphs" >(422)</text><text x="314.42" y="280.8" font-size="14.8" text-anchor="start" fill="#000" stroke="#000" textLength="32.6" lengthAdjust="spacingAndGlyphs" >(360)</text><text x="224.6" y="27.3" font-size="17.6" text-anchor="start" fill="#ff7f0a" stroke="#ff7f0a" textLength="190.6" lengthAdjust="spacingAndGlyphs" >- Sr<tspan font-size="10.5" dy="3.8">2</tspan><tspan dy="-3.8">TiO</tspan><tspan font-size="10.5" dy="3.8">4</tspan><tspan dy="-3.8"> JCPDS # 39-1471</tspan></text><text x="224.6" y="56.5" font-size="17.6" text-anchor="start" fill="#a02cff" stroke="#a02cff" textLength="195.2" lengthAdjust="spacingAndGlyphs" >- Sr<tspan font-size="10.5" dy="3.8">2</tspan><tspan dy="-3.8">CeO</tspan><tspan font-size="10.5" dy="3.8">4</tspan><tspan dy="-3.8"> JCPDS # 89-5546</tspan></text><text x="224.6" y="76.6" font-size="17.6" text-anchor="start" fill="#0e0e90" stroke="#0e0e90" textLength="190.0" lengthAdjust="spacingAndGlyphs" >- SrCeO<tspan font-size="10.5" dy="3.8">3</tspan><tspan dy="-3.8"> JCPDS # 82-2427</tspan></text><text transform="translate(17.7,209.7) rotate(-90)" font-size="17.6" fill="#000" stroke="#000" textLength="109.3" lengthAdjust="spacingAndGlyphs">Intensity (a.u.)</text></g>
</svg>
</body></html>
